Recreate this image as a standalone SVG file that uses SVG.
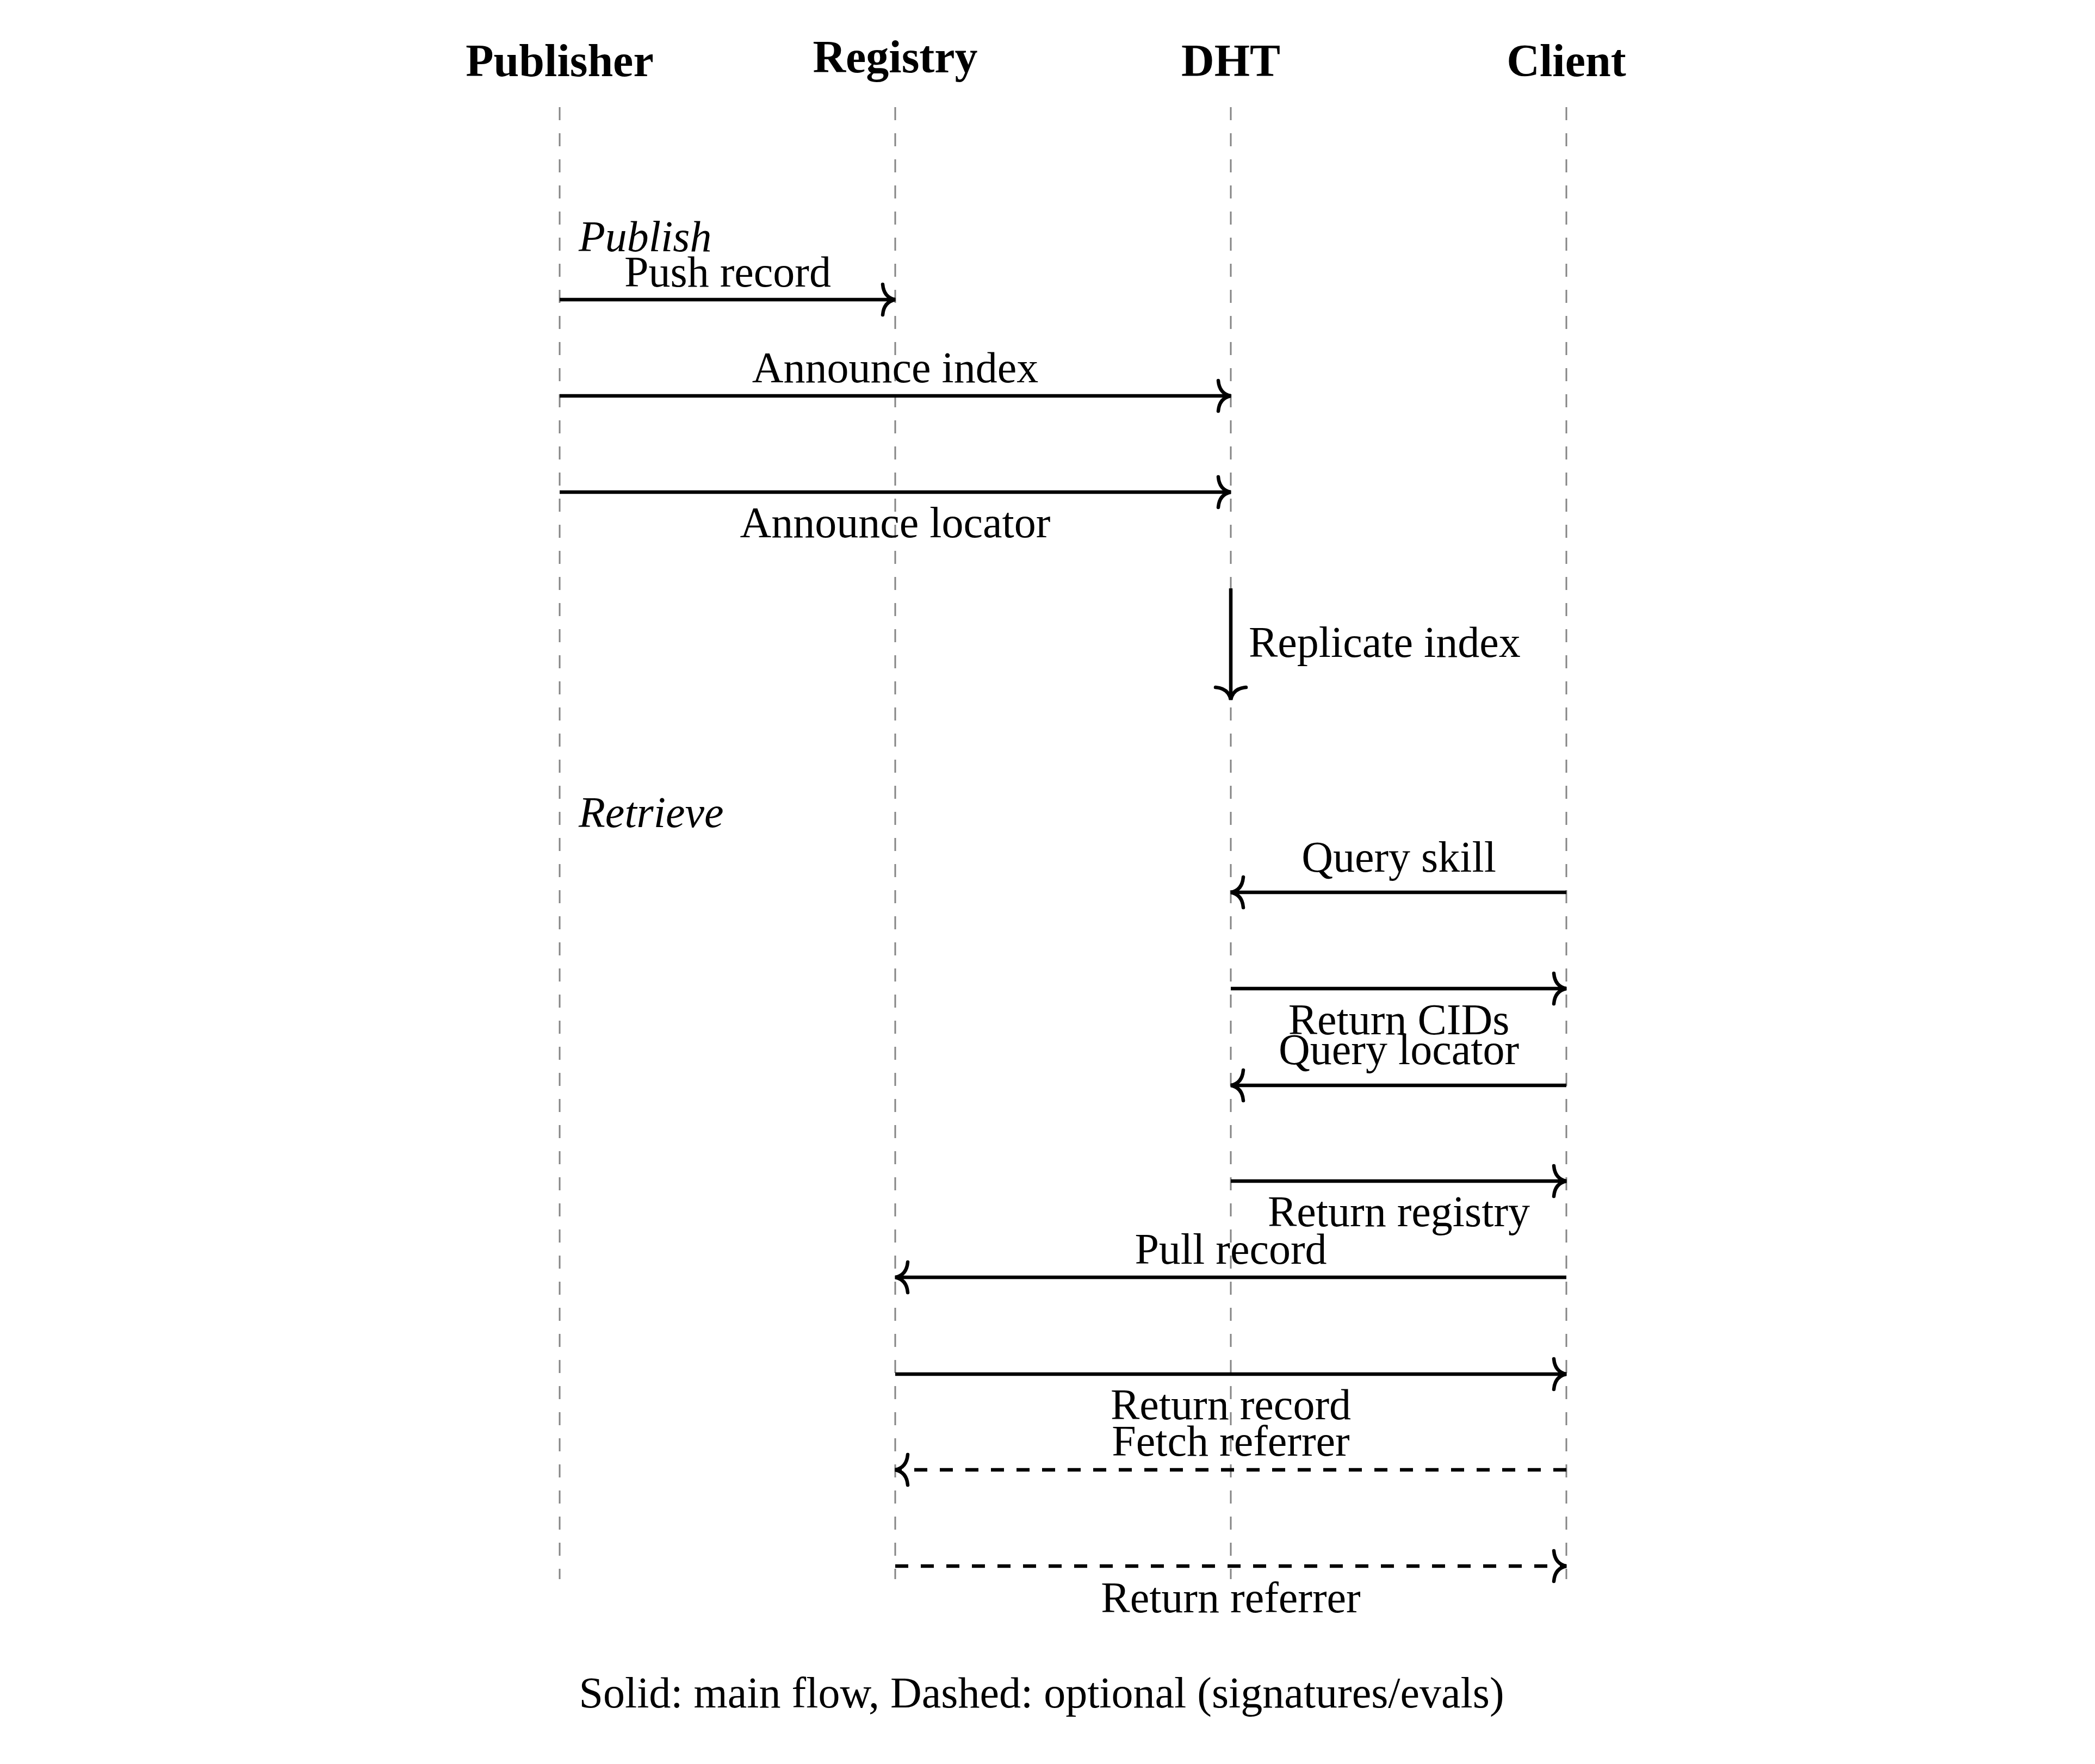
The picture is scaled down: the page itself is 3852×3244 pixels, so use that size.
<svg xmlns="http://www.w3.org/2000/svg" width="3852" height="3244" viewBox="0 0 3852 3244">
<style>
text{font-family:"Liberation Serif","Times New Roman",serif;fill:#000}
.hd{font-size:84px;font-weight:bold;text-anchor:middle}
.lb{font-size:80px;text-anchor:middle}
.lbl{font-size:80px;text-anchor:start}
.it{font-size:80px;font-style:italic;text-anchor:start}
.life{stroke:#858585;stroke-width:3;stroke-dasharray:24 24;fill:none}
.msg{stroke:#000;stroke-width:6.5;fill:none;marker-end:url(#ah)}
.opt{stroke-dasharray:24 23}
</style>
<defs>
<marker id="ah" markerUnits="userSpaceOnUse" markerWidth="40" markerHeight="70" viewBox="-32 -35 40 70" refX="0" refY="0" orient="auto" overflow="visible">
<path d="M -23,-28 Q -21,-4 0,0 Q -21,4 -23,28" fill="none" stroke="#000" stroke-width="6.5" stroke-linecap="round" stroke-dasharray="none"/>
</marker>
</defs>
<rect width="3852" height="3244" fill="#fff"/>
<g id="publisher">
<text class="hd" x="1029" y="140">Publisher</text>
<line class="life" x1="1029" y1="197" x2="1029" y2="2904"/>
</g>
<g id="registry">
<text class="hd" x="1646" y="133">Registry</text>
<line class="life" x1="1646" y1="197" x2="1646" y2="2904"/>
</g>
<g id="dht">
<text class="hd" x="2263" y="140">DHT</text>
<line class="life" x1="2263" y1="197" x2="2263" y2="2904"/>
</g>
<g id="client">
<text class="hd" x="2880" y="140">Client</text>
<line class="life" x1="2880" y1="197" x2="2880" y2="2904"/>
</g>
<g id="phases">
<text class="it" x="1064" y="462">Publish</text>
<text class="it" x="1064" y="1521">Retrieve</text>
</g>
<g id="connectors">
<line class="msg" x1="1029" y1="551" x2="1646" y2="551"/>
<text class="lb" x="1338" y="527">Push record</text>
<line class="msg" x1="1029" y1="728" x2="2263" y2="728"/>
<text class="lb" x="1646" y="703">Announce index</text>
<line class="msg" x1="1029" y1="905" x2="2263" y2="905"/>
<text class="lb" x="1646" y="988">Announce locator</text>
<line class="msg" x1="2263" y1="1082" x2="2263" y2="1287"/>
<text class="lbl" x="2296" y="1208">Replicate index</text>
<line class="msg" x1="2880" y1="1641" x2="2263" y2="1641"/>
<text class="lb" x="2572" y="1603">Query skill</text>
<line class="msg" x1="2263" y1="1818" x2="2880" y2="1818"/>
<text class="lb" x="2572" y="1902">Return CIDs</text>
<line class="msg" x1="2880" y1="1996" x2="2263" y2="1996"/>
<text class="lb" x="2572" y="1957">Query locator</text>
<line class="msg" x1="2263" y1="2172" x2="2880" y2="2172"/>
<text class="lb" x="2572" y="2255">Return registry</text>
<line class="msg" x1="2880" y1="2349" x2="1646" y2="2349"/>
<text class="lb" x="2263" y="2324">Pull record</text>
<line class="msg" x1="1646" y1="2527" x2="2880" y2="2527"/>
<text class="lb" x="2263" y="2610">Return record</text>
<line class="msg opt" x1="2880" y1="2703" x2="1646" y2="2703"/>
<text class="lb" x="2263" y="2677">Fetch referrer</text>
<line class="msg opt" x1="1646" y1="2880" x2="2880" y2="2880"/>
<text class="lb" x="2263" y="2965">Return referrer</text>
</g>
<g id="caption">
<text class="lb" x="1915" y="3140">Solid: main flow, Dashed: optional (signatures/evals)</text>
</g>
</svg>
